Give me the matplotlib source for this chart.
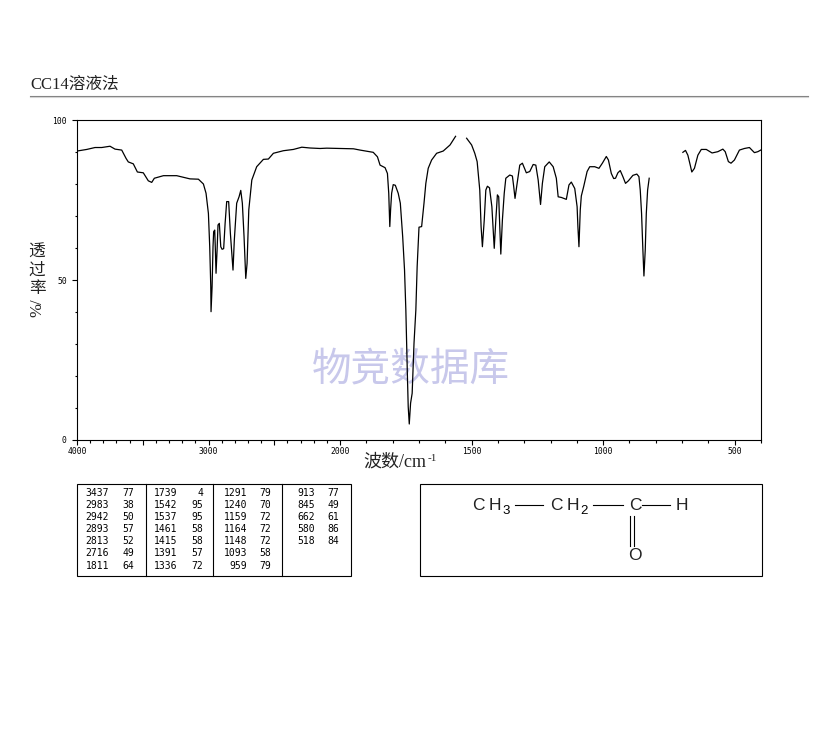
#!/usr/bin/env python

import matplotlib
matplotlib.use('Agg')
import matplotlib.pyplot as plt
import numpy as np

CJK = ['Noto Sans CJK SC', 'DejaVu Sans']
SERIF = ['Liberation Serif', 'Noto Sans CJK SC']

# spectrum is broken in two places, so three pieces
wn_a = [4000, 3926, 3863, 3812, 3749, 3711, 3660, 3627, 3610, 3572, 3541, 3496, 3458, 3432, 3412,
        3343, 3242, 3141, 3077, 3039, 3019, 3001, 2991, 2983, 2981, 2973, 2966, 2961, 2953, 2948,
        2943, 2935, 2928, 2918, 2907, 2897, 2885, 2874, 2862, 2847, 2834, 2814, 2804, 2786, 2768,
        2755, 2743, 2730, 2717, 2707, 2694, 2671, 2634, 2583, 2545, 2507, 2431, 2355, 2291, 2228,
        2152, 2101, 2000, 1949, 1924, 1874, 1858, 1848, 1829, 1820, 1815, 1811, 1808, 1804, 1798,
        1790, 1779, 1771, 1762, 1755, 1750, 1744, 1741, 1737, 1732, 1726, 1719, 1712, 1707, 1700,
        1690, 1681, 1674, 1665, 1652, 1633, 1608, 1582, 1561]
t_a = [90.3, 90.8, 91.4, 91.4, 91.8, 90.9, 90.6, 88.0, 86.9, 86.3, 83.75, 83.5, 81.0, 80.5, 81.8,
       82.6, 82.6, 81.6, 81.5, 80.0, 77.1, 70.8, 60.4, 47.9, 40.1, 47.9, 60.4, 65.1, 65.6, 59.4,
       52.1, 59.4, 67.2, 67.7, 60.4, 59.6, 59.8, 67.7, 74.5, 74.5, 64.6, 53.1, 62.5, 74.0, 76.0,
       78.0, 74.0, 63.5, 50.5, 55.2, 71.9, 81.25, 85.4, 87.7, 87.8, 89.6, 90.4, 90.8, 91.5, 91.25,
       91.1, 91.2, 91.1, 91.0, 90.6, 89.9, 88.5, 85.9, 85.1, 83.3, 77.1, 66.7, 71.9, 77.1, 79.8,
       79.6, 77.1, 74.0, 63.5, 53.1, 40.6, 19.8, 10.4, 5.0, 11.5, 14.6, 30.2, 40.6, 54.2, 66.5,
       66.7, 74.0, 80.2, 84.9, 87.5, 89.6, 90.3, 92.2, 94.9]

wn_b = [1519, 1500, 1488, 1479, 1469, 1464, 1459, 1452, 1446, 1440, 1432, 1423, 1414, 1408, 1402,
        1397, 1393, 1389, 1383, 1376, 1370, 1355, 1345, 1340, 1335, 1327, 1317, 1307, 1292, 1279,
        1266, 1256, 1247, 1238, 1231, 1222, 1205, 1190, 1178, 1171, 1159, 1140, 1130, 1121, 1108,
        1099, 1096, 1092, 1087, 1083, 1074, 1061, 1051, 1032, 1016, 1003, 988, 980, 969, 960,
        953, 944, 935, 925, 915, 904, 887, 872, 864, 859, 854, 849, 845, 840, 836, 831, 825]
t_b = [94.3, 92.2, 89.6, 87.0, 78.1, 66.7, 60.4, 68.75, 78.1, 79.3, 78.8, 72.9, 59.9, 68.75, 76.6,
       76.0, 66.7, 58.1, 68.75, 77.1, 81.8, 82.8, 82.5, 79.2, 75.5, 80.2, 85.9, 86.5, 83.5, 83.9,
       86.1, 85.9, 81.25, 73.6, 80.2, 85.4, 86.9, 85.4, 81.8, 76.0, 75.8, 75.2, 79.7, 80.6, 78.6,
       72.9, 66.7, 60.4, 71.9, 76.25, 79.2, 83.9, 85.4, 85.4, 84.9, 86.5, 88.6, 87.5, 83.3, 81.7,
       81.8, 83.5, 84.2, 82.3, 80.2, 81.0, 82.7, 83.1, 82.3, 78.1, 70.8, 59.4, 51.25, 59.4, 70.8,
       78.1, 81.8]

wn_c = [697, 687, 678, 669, 663, 653, 640, 627, 608, 586, 564, 545, 536, 524, 514, 501, 482, 463,
        444, 425, 412, 401]
t_c = [89.9, 90.5, 89.0, 85.9, 83.75, 84.9, 89.0, 90.8, 90.8, 89.7, 90.1, 90.9, 90.1, 87.0, 86.5,
       87.5, 90.6, 91.1, 91.4, 89.8, 90.1, 90.6]

# peak table, four columns
peak_wn = [[3437, 2983, 2942, 2893, 2813, 2716, 1811],
           [1739, 1542, 1537, 1461, 1415, 1391, 1336],
           [1291, 1240, 1159, 1164, 1148, 1093, 959],
           [913, 845, 662, 580, 518]]
peak_t = [[77, 38, 50, 57, 52, 49, 64],
          [4, 95, 95, 58, 58, 57, 72],
          [79, 70, 72, 72, 72, 58, 79],
          [77, 49, 61, 86, 84]]

x_labels = [4000, 3000, 2000, 1500, 1000, 500]
y_labels = [0, 50, 100]


def forward(w):
    w = np.asarray(w, dtype=float)
    return np.where(w <= 2000, w, 2000 + (w - 2000) / 2)


def inverse(v):
    v = np.asarray(v, dtype=float)
    return np.where(v <= 2000, v, 2000 + (v - 2000) * 2)


def draw_spectrum(fig):
    ax = fig.add_axes([77 / 822, 1 - 440 / 737, 684 / 822, 320 / 737], zorder=2)
    ax.patch.set_visible(False)
    ax.set_xscale('function', functions=(forward, inverse))
    for w, t in ((wn_a, t_a), (wn_b, t_b), (wn_c, t_c)):
        ax.plot(w, t, color='black', lw=0.9)
    ax.set_xlim(4000, 400)
    ax.set_ylim(0, 100)

    major = list(range(4000, 400, -500))
    ax.set_xticks(major)
    ax.set_xticklabels([str(m) if m in x_labels else '' for m in major])
    ax.set_xticks(list(range(4000, 399, -100)), minor=True)
    ax.set_yticks(y_labels)
    ax.set_yticks(list(range(0, 101, 10)), minor=True)
    ax.tick_params(which='major', length=3.8, width=0.8, labelsize=5.8)
    ax.tick_params(which='minor', length=1.8, width=0.8)
    ax.tick_params(axis='x', which='major', pad=1.5)
    ax.tick_params(axis='y', which='major', pad=3.5)
    for lab in ax.get_xticklabels() + ax.get_yticklabels():
        lab.set_family('DejaVu Sans Mono')
    for s in ax.spines.values():
        s.set_linewidth(0.8)


def draw_peak_table(page):
    page.add_patch(plt.Rectangle((76.5, 483.5), 274, 92, fill=False, ec='black', lw=0.8))
    for x in (146, 213, 282):
        page.plot([x, x], [483.5, 575.5], color='black', lw=0.8)
    wn_right = (109, 177, 247, 315)
    t_right = (134, 203, 271, 339)
    for c in range(len(peak_wn)):
        for r, (w, t) in enumerate(zip(peak_wn[c], peak_t[c])):
            y = 492.5 + r * 12.2
            page.text(wn_right[c], y, str(w), ha='right', va='center', fontsize=7,
                      family='DejaVu Sans Mono')
            page.text(t_right[c], y, str(t), ha='right', va='center', fontsize=7,
                      family='DejaVu Sans Mono')


def draw_molecule(page):
    page.add_patch(plt.Rectangle((419.5, 483.5), 342, 92, fill=False, ec='black', lw=0.8))
    atoms = [('C', 478), ('H', 495), ('C', 556), ('H', 573), ('C', 635), ('H', 682)]
    for a, x in atoms:
        page.text(x, 505, a, ha='center', va='center', fontsize=12.5, family='Liberation Sans',
                  color='#222222')
    page.text(506, 511, '3', ha='center', va='center', fontsize=9.5, family='Liberation Sans')
    page.text(584, 511, '2', ha='center', va='center', fontsize=9.5, family='Liberation Sans')
    page.text(635, 556, 'O', ha='center', va='center', fontsize=12.5, family='Liberation Sans',
              color='#222222')
    for x0, x1 in ((515, 543), (593, 623), (642, 670)):
        page.plot([x0, x1], [505, 505], color='black', lw=0.8)
    for x in (629.5, 633.5):
        page.plot([x, x], [516, 546], color='black', lw=0.8)


def main():
    fig = plt.figure(figsize=(8.22, 7.37), dpi=100)
    page = fig.add_axes([0, 0, 1, 1], zorder=1)
    page.set_xlim(0, 822)
    page.set_ylim(737, 0)
    page.axis('off')

    page.text(30, 85, 'CC14溶液法', ha='left', va='center', fontsize=12, color='#222222',
              family=SERIF)
    page.plot([30, 808], [96, 96], color='#808080', lw=0.8)
    page.plot([30, 808], [97, 97], color='#d4d4d4', lw=0.8)

    page.text(411, 369, '物竞数据库', ha='center', va='center', fontsize=28.5,
              color='#c8c8eb', family=CJK)
    for ch, y in zip('透过率', (252, 270, 288)):
        page.text(37, y, ch, ha='center', va='center', fontsize=12, color='#222222', family=CJK)
    page.text(37, 308, '%/', ha='center', va='center', fontsize=12, rotation=90,
              color='#222222', family='Liberation Serif')
    page.text(363, 462, '波数/cm', ha='left', va='center', fontsize=13, color='#222222',
              family=SERIF)
    page.text(428, 458, '-1', ha='left', va='center', fontsize=8, color='#222222',
              family='Liberation Serif')

    draw_spectrum(fig)
    draw_peak_table(page)
    draw_molecule(page)

    fig.savefig('out.png', dpi=100)


if __name__ == "__main__":
    main()
